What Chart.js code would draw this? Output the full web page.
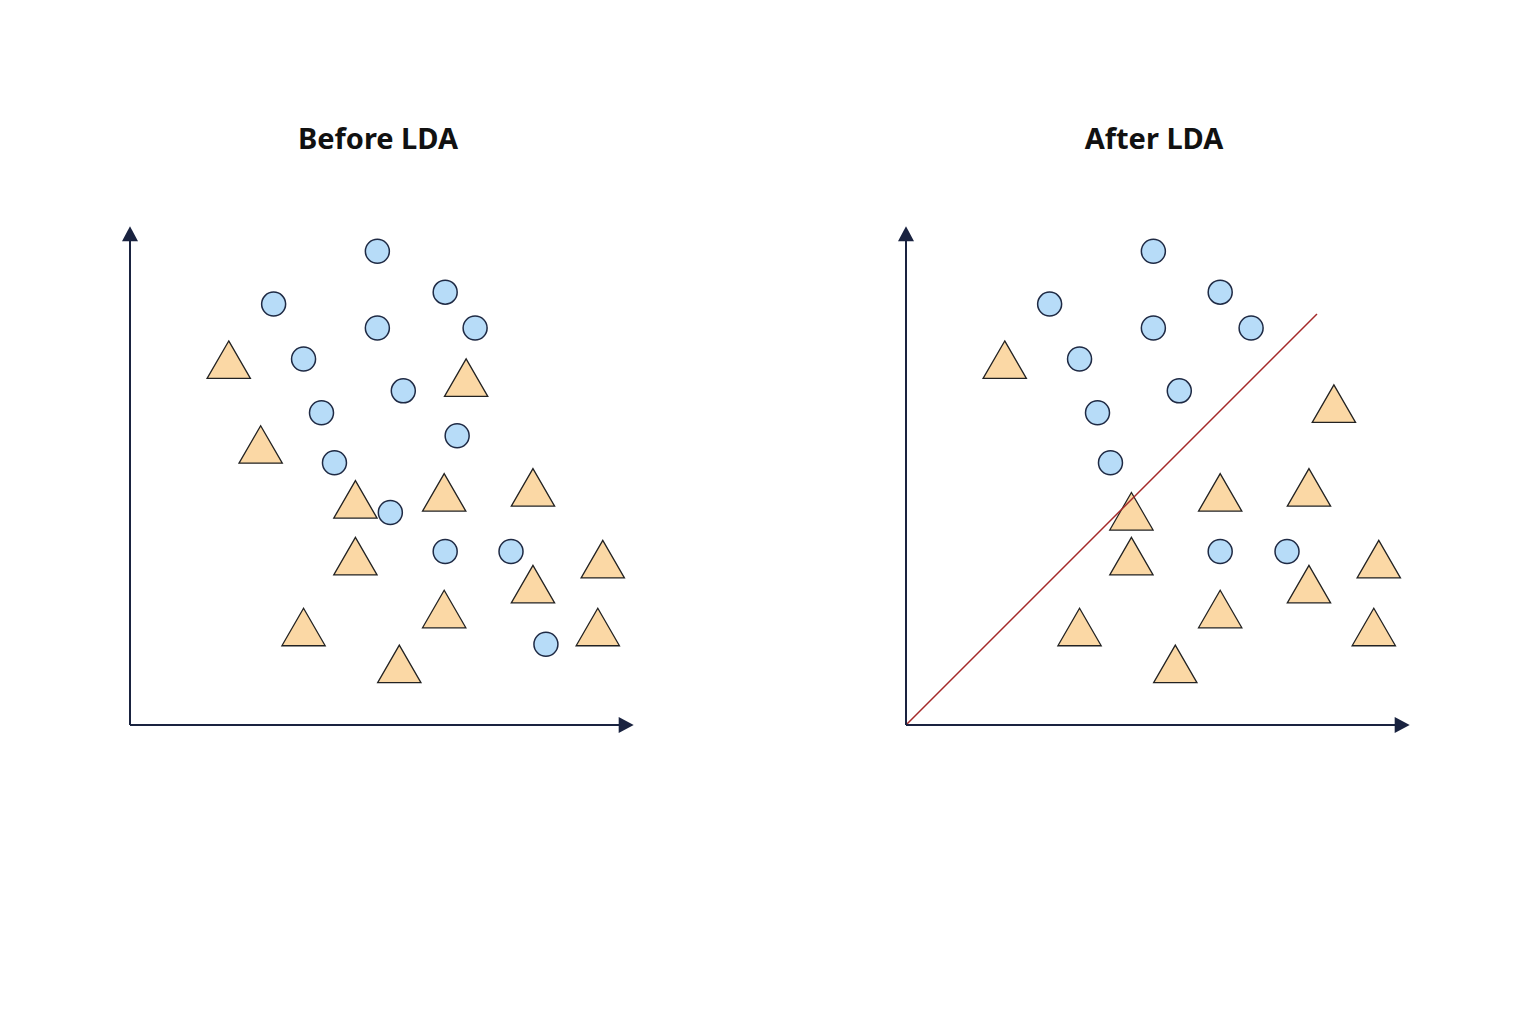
<!DOCTYPE html>
<html><head><meta charset="utf-8">
<script src="https://cdn.jsdelivr.net/npm/chart.js@4"></script>
<style>
body{margin:0;background:#fff;width:1536px;height:1010px;position:relative;overflow:hidden;font-family:"Noto Sans",sans-serif}
.t{position:absolute;top:118px;font-weight:bold;font-size:29px;color:#111;text-align:center;width:400px}
.c{position:absolute;top:200px;width:560px;height:560px}
</style></head><body>
<div class="t" style="left:178px">Before LDA</div>
<div class="t" style="left:954px">After LDA</div>
<div class="c" style="left:100px"><canvas id="a"></canvas></div>
<div class="c" style="left:876px"><canvas id="b"></canvas></div>
<script>
const beforeCircles=[[248,475],[144,422],[316,434],[248,398],[346,398],[174,367],[274,335],[192,313],[328,290],[205,263],[261,213],[316,174],[382,174],[417,81]];
const beforeTriangles=[[99,360],[337,342],[131,275],[226,220],[315,227],[404,232],[226,163],[474,160],[404,135],[315,110],[174,92],[469,92],[270,55]];
const afterCircles=[[248,475],[144,422],[315,434],[248,398],[346,398],[174,367],[274,335],[192,313],[205,263],[315,174],[382,174]];
const afterTriangles=[[99,360],[429,316],[226,208],[315,227],[404,232],[226,163],[474,160],[404,135],[315,110],[174,92],[469,92],[270,55]];
const ldaLine=[[0,0],[412,412]];
const pts=a=>a.map(([x,y])=>({x,y}));
const axisColor='#1a2340';
const axes={id:'axes',afterDatasetsDraw(c){const {left,right,top,bottom}=c.chartArea,g=c.ctx;g.save();g.strokeStyle=axisColor;g.fillStyle=axisColor;g.lineWidth=2;
g.beginPath();g.moveTo(left,bottom);g.lineTo(right-10,bottom);g.moveTo(left,bottom);g.lineTo(left,top+10);g.stroke();
g.beginPath();g.moveTo(right,bottom);g.lineTo(right-15,bottom-8);g.lineTo(right-15,bottom+8);g.fill();
g.beginPath();g.moveTo(left,top);g.lineTo(left-8,top+15);g.lineTo(left+8,top+15);g.fill();g.restore();}};
function make(id,circ,tri,line){
 const ds=[];
 if(line)ds.push({type:'line',data:pts(line),borderColor:'#a52a2a',borderWidth:1.5,pointRadius:0,order:0});
 ds.push({data:pts(tri),pointStyle:'triangle',pointRadius:25,backgroundColor:'#fbd8a5',borderColor:'#222',borderWidth:1.3,order:2});
 ds.push({data:pts(circ),pointStyle:'circle',pointRadius:12,backgroundColor:'#b7dcf8',borderColor:'#1f2a44',borderWidth:1.5,order:1});
 new Chart(document.getElementById(id),{type:'scatter',data:{datasets:ds},plugins:[axes],
 options:{responsive:true,maintainAspectRatio:false,animation:false,clip:false,
 layout:{padding:{left:30,right:25,top:25,bottom:35}},
 plugins:{legend:{display:false},tooltip:{enabled:false}},
 scales:{x:{display:false,min:0,max:505},y:{display:false,min:0,max:500}}}});
}
make('a',beforeCircles,beforeTriangles,null);
make('b',afterCircles,afterTriangles,ldaLine);
</script></body></html>
